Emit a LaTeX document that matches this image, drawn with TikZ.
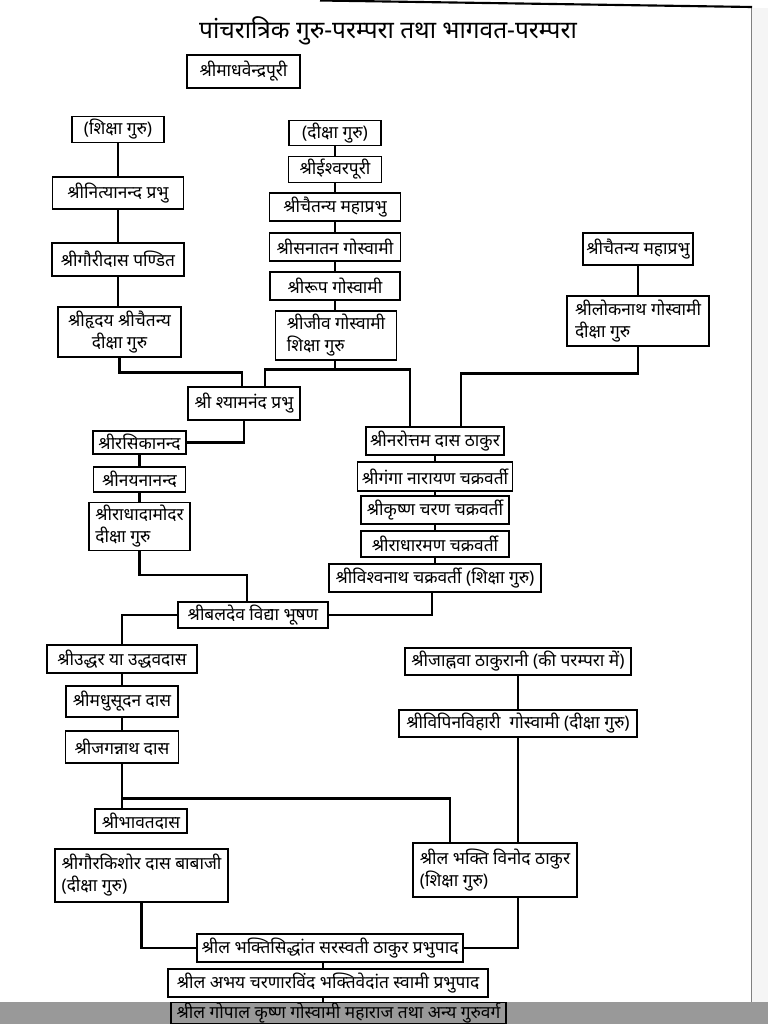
\documentclass[tikz,border=0pt]{standalone}
\usepackage{fontspec}
\setmainfont[Script=Devanagari]{Noto Sans}
\newfontfamily\dev[Script=Devanagari]{Noto Sans}
\usetikzlibrary{calc}
\tikzset{
  bx/.style={draw, line width=1.1pt, inner sep=2pt, font=\dev\fontsize{13}{16.5}\selectfont, align=center},
  lft/.style={align=left},
  conn/.style={line width=2pt}
}
\begin{document}
\begin{tikzpicture}[x=0.75pt,y=-0.75pt]
\useasboundingbox (0,0) rectangle (768,1024);
\fill[white] (0,0) rectangle (768,1024);
% page edges / photo artefacts
\fill[black!4] (751,8) rectangle (768,1024);
\draw[black!50, line width=0.6pt] (751,8) -- (751,1024);
\draw[line width=1.6pt] (320,0.5) -- (752,7);
\fill[black!40] (0,1002) rectangle (768,1024);

% title
\node[font=\dev\fontsize{18.3}{22}\selectfont] (title) at (388,31) {पांचरात्रिक गुरु-परम्परा तथा भागवत-परम्परा};

% nodes
\node[bx, minimum width=113*0.75pt, minimum height=33*0.75pt] (madh) at (243.5,71.5) {श्रीमाधवेन्द्रपूरी};

\node[bx, minimum width=92*0.75pt, minimum height=25*0.75pt] (sg) at (118,129.5) {(शिक्षा गुरु)};
\node[bx, minimum width=131*0.75pt, minimum height=32*0.75pt] (nitya) at (118,193) {श्रीनित्यानन्द प्रभु};
\node[bx, minimum width=132*0.75pt, minimum height=33*0.75pt] (gauri) at (118,259.5) {श्रीगौरीदास पण्डित};
\node[bx, minimum width=123*0.75pt, minimum height=50*0.75pt] (hridaya) at (119.5,332) {श्रीहृदय श्रीचैतन्य\\दीक्षा गुरु};

\node[bx, minimum width=92*0.75pt, minimum height=24*0.75pt] (dg) at (335,133) {(दीक्षा गुरु)};
\node[bx, minimum width=93*0.75pt, minimum height=23*0.75pt] (ishvara) at (335,169.5) {श्रीईश्वरपूरी};
\node[bx, minimum width=131*0.75pt, minimum height=28*0.75pt] (chai) at (335,207) {श्रीचैतन्य महाप्रभु};
\node[bx, minimum width=131*0.75pt, minimum height=28*0.75pt] (sanat) at (335,247) {श्रीसनातन गोस्वामी};
\node[bx, minimum width=130*0.75pt, minimum height=28*0.75pt] (rupa) at (335,286) {श्रीरूप गोस्वामी};
\node[bx, lft, minimum width=121*0.75pt, minimum height=49*0.75pt] (jiva) at (336,335.5) {श्रीजीव गोस्वामी\\शिक्षा गुरु};

\node[bx, minimum width=110*0.75pt, minimum height=32*0.75pt] (rchai) at (638,249) {श्रीचैतन्य महाप्रभु};
\node[bx, lft, minimum width=142*0.75pt, minimum height=50*0.75pt] (loka) at (638,321) {श्रीलोकनाथ गोस्वामी\\दीक्षा गुरु};

\node[bx, minimum width=112*0.75pt, minimum height=33*0.75pt] (shyam) at (244,403.5) {श्री श्यामनंद प्रभु};
\node[bx, minimum width=93*0.75pt, minimum height=23*0.75pt] (rasika) at (139.5,442.5) {श्रीरसिकानन्द};
\node[bx, minimum width=92*0.75pt, minimum height=25*0.75pt] (nayana) at (139.5,479.5) {श्रीनयनानन्द};
\node[bx, lft, minimum width=101*0.75pt, minimum height=45*0.75pt] (radhad) at (139.5,526.5) {श्रीराधादामोदर\\दीक्षा गुरु};

\node[bx, minimum width=138*0.75pt, minimum height=28*0.75pt] (narottam) at (435,441) {श्रीनरोत्तम दास ठाकुर};
\node[bx, minimum width=155*0.75pt, minimum height=29*0.75pt] (ganga) at (435,476.5) {श्रीगंगा नारायण चक्रवर्ती};
\node[bx, minimum width=148*0.75pt, minimum height=28*0.75pt] (krishna) at (435,510) {श्रीकृष्ण चरण चक्रवर्ती};
\node[bx, minimum width=148*0.75pt, minimum height=26*0.75pt] (radharam) at (435,544) {श्रीराधारमण चक्रवर्ती};
\node[bx, minimum width=212*0.75pt, minimum height=28*0.75pt] (vish) at (435,578) {श्रीविश्वनाथ चक्रवर्ती (शिक्षा गुरु)};

\node[bx, minimum width=150*0.75pt, minimum height=26*0.75pt] (baladeva) at (253,615) {श्रीबलदेव विद्या भूषण};
\node[bx, minimum width=150*0.75pt, minimum height=28*0.75pt] (uddhava) at (122,659) {श्रीउद्धर या उद्धवदास};
\node[bx, minimum width=112*0.75pt, minimum height=31*0.75pt] (madhu) at (122,701.5) {श्रीमधुसूदन दास};
\node[bx, minimum width=113*0.75pt, minimum height=32*0.75pt] (jag) at (122,747) {श्रीजगन्नाथ दास};

\node[bx, minimum width=226*0.75pt, minimum height=27*0.75pt] (jahnava) at (518,661.5) {श्रीजाह्नवा ठाकुरानी (की परम्परा में)};
\node[bx, minimum width=238*0.75pt, minimum height=27*0.75pt] (vipin) at (518,723.5) {श्रीविपिनविहारी\ \ गोस्वामी (दीक्षा गुरु)};

\node[bx, minimum width=92*0.75pt, minimum height=24*0.75pt] (bhavata) at (141,821) {श्रीभावतदास};
\node[bx, lft, minimum width=173*0.75pt, minimum height=53*0.75pt] (gk) at (141.5,875.5) {श्रीगौरकिशोर दास बाबाजी\\(दीक्षा गुरु)};
\node[bx, lft, minimum width=164*0.75pt, minimum height=54*0.75pt] (bvinod) at (495,870) {श्रील भक्ति विनोद ठाकुर\\(शिक्षा गुरु)};

\node[bx, minimum width=266*0.75pt, minimum height=28*0.75pt] (bsid) at (330,948) {श्रील भक्तिसिद्धांत सरस्वती ठाकुर प्रभुपाद};
\node[bx, minimum width=320*0.75pt, minimum height=28*0.75pt] (abhay) at (328,983) {श्रील अभय चरणारविंद भक्तिवेदांत स्वामी प्रभुपाद};
\node[bx, fill=black!40, inner ysep=0.5pt, minimum width=335*0.75pt, minimum height=20*0.75pt] (gopal) at (338.5,1013) {श्रील गोपाल कृष्ण गोस्वामी महाराज तथा अन्य गुरुवर्ग};

% connectors
\draw[conn] (sg.south) -- (sg.south |- nitya.north);
\draw[conn] (nitya.south) -- (nitya.south |- gauri.north);
\draw[conn] (gauri.south) -- (gauri.south |- hridaya.north);
\draw[conn] (hridaya.south) -- ++(0,15) -| ($(shyam.north)+(-2,0)$);

\draw[conn] (dg.south) -- (dg.south |- ishvara.north);
\draw[conn] (ishvara.south) -- (ishvara.south |- chai.north);
\draw[conn] (chai.south) -- (chai.south |- sanat.north);
\draw[conn] (sanat.south) -- (sanat.south |- rupa.north);
\draw[conn] (rupa.south) -- (rupa.south |- jiva.north);
\draw[conn] ($(jiva.south)+(-1,0)$) -- ($(jiva.south)+(-1,9)$);
\draw[conn] ($(shyam.north)+(21,0)$) |- ($(jiva.south)+(0,9)$) -| ($(narottam.north)+(-25,0)$);

\draw[conn] (rchai.south) -- (rchai.south |- loka.north);
\draw[conn] (loka.south) -- ++(0,27) -| ($(narottam.north)+(26,0)$);

\draw[conn] (shyam.south) |- (rasika.east);
\draw[conn] (rasika.south) -- (rasika.south |- nayana.north);
\draw[conn] (nayana.south) -- (nayana.south |- radhad.north);
\draw[conn] (radhad.south) -- ++(0,24) -| ($(baladeva.north)+(-6,0)$);

\draw[conn] (narottam.south) -- (narottam.south |- ganga.north);
\draw[conn] (ganga.south) -- (ganga.south |- krishna.north);
\draw[conn] (krishna.south) -- (krishna.south |- radharam.north);
\draw[conn] (radharam.south) -- (radharam.south |- vish.north);
\draw[conn] ($(vish.south)+(-3,0)$) |- (baladeva.east);

\draw[conn] (baladeva.west) -| (uddhava.north);
\draw[conn] (uddhava.south) -- (uddhava.south |- madhu.north);
\draw[conn] (madhu.south) -- (madhu.south |- jag.north);
\draw[conn] (jag.south) -- (jag.south |- bhavata.north);
\draw[conn] ($(jag.south)+(0,35)$) -| ($(bvinod.north)+(-45,0)$);
\draw[conn] ($(bhavata.south)+(-3,0)$) -- ($(bhavata.south)+(-3,0)$ |- gk.north);
\draw[conn] (gk.south) |- (bsid.west);

\draw[conn] (jahnava.south) -- (jahnava.south |- vipin.north);
\draw[conn] (vipin.south) -- (vipin.south |- bvinod.north);
\draw[conn] ($(bvinod.south)+(23,0)$) |- (bsid.east);

\draw[conn] ($(bsid.south)+(-7,0)$) -- ($(abhay.north)+(-5,0)$);
\draw[conn] ($(abhay.south)+(-5,0)$) -- ($(gopal.north)+(-15.5,0)$);
\end{tikzpicture}
\end{document}
